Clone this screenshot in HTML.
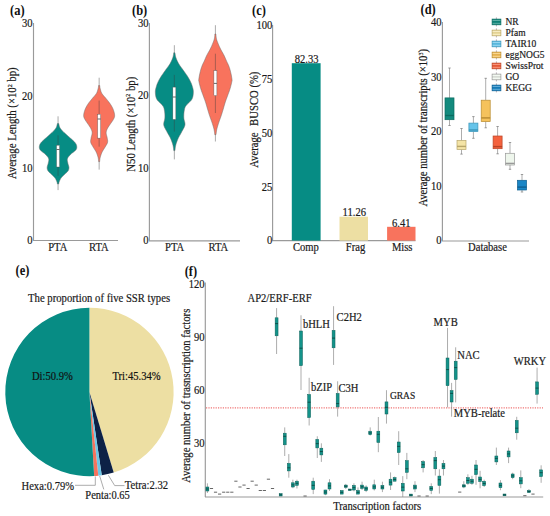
<!DOCTYPE html>
<html><head><meta charset="utf-8"><style>
html,body{margin:0;padding:0;background:#fff;}
body{width:550px;height:516px;overflow:hidden;}
svg{display:block;font-family:"Liberation Serif", serif;}
</style></head><body>
<svg width="550" height="516" viewBox="0 0 550 516">
<rect width="550" height="516" fill="#fff"/>
<text transform="translate(10.00 14.60) scale(1 1.1)" font-size="12.5" text-anchor="start" font-weight="bold" fill="#111">(a)</text>
<line x1="33.50" y1="23.00" x2="33.50" y2="240.50" stroke="#9a9a9a" stroke-width="1.15"/>
<line x1="33.00" y1="240.50" x2="118.00" y2="240.50" stroke="#9a9a9a" stroke-width="1.15"/>
<text transform="translate(32.50 27.30) scale(1 1.1)" font-size="10.6" text-anchor="end" font-weight="normal" fill="#1a1a1a" stroke="#1a1a1a" stroke-width="0.18">30</text>
<text transform="translate(32.50 100.10) scale(1 1.1)" font-size="10.6" text-anchor="end" font-weight="normal" fill="#1a1a1a" stroke="#1a1a1a" stroke-width="0.18">20</text>
<text transform="translate(32.50 172.30) scale(1 1.1)" font-size="10.6" text-anchor="end" font-weight="normal" fill="#1a1a1a" stroke="#1a1a1a" stroke-width="0.18">10</text>
<text transform="translate(32.50 244.10) scale(1 1.1)" font-size="10.6" text-anchor="end" font-weight="normal" fill="#1a1a1a" stroke="#1a1a1a" stroke-width="0.18">0</text>
<text transform="translate(48.20 250.60) scale(1 1.1)" font-size="10.6" text-anchor="start" font-weight="normal" fill="#1a1a1a" stroke="#1a1a1a" stroke-width="0.18">PTA</text>
<text transform="translate(89.00 250.60) scale(1 1.1)" font-size="10.6" text-anchor="start" font-weight="normal" fill="#1a1a1a" stroke="#1a1a1a" stroke-width="0.18">RTA</text>
<text transform="translate(16.00 123.20) rotate(-90) scale(1 1.1)" font-size="10.75" text-anchor="middle" font-weight="normal" fill="#1a1a1a" stroke="#1a1a1a" stroke-width="0.18">Average Length (×10<tspan font-size="6" dy="-4">2</tspan><tspan dy="4"> bp)</tspan></text>
<line x1="58.05" y1="116.30" x2="58.05" y2="124.60" stroke="#8f8f8f" stroke-width="0.75"/>
<line x1="58.05" y1="183.00" x2="58.05" y2="190.10" stroke="#8f8f8f" stroke-width="0.75"/>
<path d="M58.75,123.60 L58.82,123.90 L58.90,124.30 L58.99,124.78 L59.11,125.31 L59.24,125.87 L59.41,126.43 L59.61,126.99 L59.85,127.50 L60.13,127.99 L60.46,128.47 L60.82,128.96 L61.21,129.45 L61.62,129.94 L62.05,130.43 L62.50,130.91 L62.95,131.40 L63.42,131.89 L63.92,132.38 L64.44,132.87 L64.97,133.36 L65.52,133.84 L66.07,134.33 L66.61,134.82 L67.15,135.30 L67.69,135.78 L68.23,136.25 L68.77,136.73 L69.32,137.20 L69.86,137.67 L70.40,138.15 L70.93,138.62 L71.45,139.10 L71.97,139.59 L72.51,140.08 L73.05,140.57 L73.58,141.07 L74.09,141.56 L74.56,142.05 L74.98,142.53 L75.35,143.00 L75.66,143.46 L75.93,143.90 L76.16,144.34 L76.35,144.78 L76.50,145.21 L76.62,145.63 L76.70,146.07 L76.75,146.50 L76.78,146.93 L76.79,147.35 L76.77,147.77 L76.71,148.19 L76.60,148.62 L76.43,149.06 L76.18,149.52 L75.85,150.00 L75.39,150.51 L74.81,151.04 L74.13,151.59 L73.39,152.15 L72.64,152.72 L71.91,153.29 L71.23,153.85 L70.65,154.40 L70.13,154.94 L69.62,155.48 L69.15,156.02 L68.70,156.55 L68.30,157.08 L67.95,157.62 L67.66,158.16 L67.45,158.70 L67.32,159.25 L67.28,159.80 L67.31,160.35 L67.38,160.90 L67.49,161.45 L67.62,162.00 L67.74,162.55 L67.85,163.10 L67.97,163.65 L68.12,164.20 L68.30,164.75 L68.48,165.31 L68.65,165.85 L68.80,166.38 L68.90,166.90 L68.95,167.40 L68.95,167.88 L68.93,168.33 L68.87,168.77 L68.79,169.20 L68.67,169.62 L68.50,170.04 L68.30,170.47 L68.05,170.90 L67.74,171.34 L67.36,171.78 L66.92,172.21 L66.46,172.65 L65.97,173.09 L65.48,173.53 L65.00,173.96 L64.55,174.40 L64.11,174.84 L63.66,175.28 L63.20,175.71 L62.74,176.15 L62.30,176.59 L61.89,177.03 L61.50,177.46 L61.15,177.90 L60.84,178.34 L60.56,178.80 L60.31,179.25 L60.08,179.71 L59.87,180.15 L59.69,180.59 L59.51,181.01 L59.35,181.40 L59.21,181.79 L59.08,182.17 L58.98,182.56 L58.89,182.92 L58.81,183.25 L58.75,183.55 L58.70,183.81 L58.65,184.00 L57.45,184.00 L57.40,183.81 L57.35,183.55 L57.29,183.25 L57.21,182.92 L57.12,182.56 L57.02,182.17 L56.89,181.79 L56.75,181.40 L56.59,181.01 L56.41,180.59 L56.23,180.15 L56.02,179.71 L55.79,179.25 L55.54,178.80 L55.26,178.34 L54.95,177.90 L54.60,177.46 L54.21,177.03 L53.80,176.59 L53.36,176.15 L52.90,175.71 L52.44,175.28 L51.99,174.84 L51.55,174.40 L51.10,173.96 L50.62,173.53 L50.13,173.09 L49.64,172.65 L49.18,172.21 L48.74,171.78 L48.36,171.34 L48.05,170.90 L47.80,170.47 L47.60,170.04 L47.43,169.62 L47.31,169.20 L47.23,168.77 L47.17,168.33 L47.15,167.88 L47.15,167.40 L47.20,166.90 L47.30,166.38 L47.45,165.85 L47.62,165.31 L47.80,164.75 L47.98,164.20 L48.13,163.65 L48.25,163.10 L48.36,162.55 L48.48,162.00 L48.61,161.45 L48.72,160.90 L48.79,160.35 L48.82,159.80 L48.78,159.25 L48.65,158.70 L48.44,158.16 L48.15,157.62 L47.80,157.08 L47.40,156.55 L46.95,156.02 L46.47,155.48 L45.97,154.94 L45.45,154.40 L44.87,153.85 L44.19,153.29 L43.46,152.72 L42.71,152.15 L41.97,151.59 L41.29,151.04 L40.71,150.51 L40.25,150.00 L39.92,149.52 L39.67,149.06 L39.50,148.62 L39.39,148.19 L39.33,147.77 L39.31,147.35 L39.32,146.93 L39.35,146.50 L39.40,146.07 L39.48,145.63 L39.60,145.21 L39.75,144.78 L39.94,144.34 L40.17,143.90 L40.44,143.46 L40.75,143.00 L41.12,142.53 L41.54,142.05 L42.01,141.56 L42.52,141.07 L43.05,140.57 L43.59,140.08 L44.13,139.59 L44.65,139.10 L45.17,138.62 L45.70,138.15 L46.24,137.67 L46.78,137.20 L47.33,136.73 L47.87,136.25 L48.41,135.78 L48.95,135.30 L49.49,134.82 L50.03,134.33 L50.58,133.84 L51.12,133.36 L51.66,132.87 L52.18,132.38 L52.68,131.89 L53.15,131.40 L53.60,130.91 L54.05,130.43 L54.48,129.94 L54.89,129.45 L55.28,128.96 L55.64,128.47 L55.97,127.99 L56.25,127.50 L56.49,126.99 L56.69,126.43 L56.86,125.87 L56.99,125.31 L57.11,124.78 L57.20,124.30 L57.28,123.90 L57.35,123.60 Z" fill="#068c84" stroke="#6a6a6a" stroke-width="0.5"/>
<line x1="58.05" y1="135.30" x2="58.05" y2="175.90" stroke="#3d3d3d" stroke-width="0.7" stroke-opacity="0.6"/>
<rect x="56.55" y="145.20" width="3.00" height="21.80" fill="#ffffff" stroke="#555" stroke-width="0.4"/>
<line x1="56.55" y1="149.50" x2="59.55" y2="149.50" stroke="#444" stroke-width="0.8"/>
<line x1="99.15" y1="77.70" x2="99.15" y2="86.60" stroke="#8f8f8f" stroke-width="0.75"/>
<line x1="99.15" y1="160.60" x2="99.15" y2="169.60" stroke="#8f8f8f" stroke-width="0.75"/>
<path d="M99.75,85.60 L99.77,85.81 L99.79,86.07 L99.81,86.39 L99.84,86.74 L99.89,87.14 L99.95,87.57 L100.04,88.02 L100.15,88.50 L100.29,89.02 L100.43,89.59 L100.60,90.20 L100.78,90.83 L100.99,91.48 L101.24,92.14 L101.52,92.78 L101.85,93.40 L102.23,94.00 L102.67,94.60 L103.15,95.20 L103.66,95.80 L104.19,96.40 L104.72,97.00 L105.25,97.60 L105.75,98.20 L106.24,98.81 L106.75,99.42 L107.26,100.03 L107.76,100.65 L108.26,101.27 L108.75,101.88 L109.21,102.49 L109.65,103.10 L110.07,103.70 L110.47,104.30 L110.86,104.90 L111.24,105.50 L111.59,106.10 L111.93,106.70 L112.25,107.30 L112.55,107.90 L112.83,108.52 L113.09,109.14 L113.34,109.78 L113.56,110.41 L113.77,111.04 L113.95,111.65 L114.11,112.24 L114.25,112.80 L114.37,113.33 L114.47,113.84 L114.54,114.32 L114.60,114.79 L114.63,115.25 L114.63,115.70 L114.61,116.15 L114.55,116.60 L114.46,117.04 L114.33,117.46 L114.18,117.86 L114.00,118.27 L113.79,118.68 L113.57,119.10 L113.32,119.53 L113.05,120.00 L112.75,120.50 L112.42,121.01 L112.06,121.55 L111.68,122.10 L111.28,122.66 L110.89,123.21 L110.51,123.76 L110.15,124.30 L109.79,124.83 L109.43,125.35 L109.06,125.88 L108.70,126.40 L108.35,126.92 L108.02,127.45 L107.72,127.97 L107.45,128.50 L107.20,129.03 L106.97,129.54 L106.75,130.06 L106.56,130.58 L106.40,131.11 L106.27,131.65 L106.19,132.21 L106.15,132.80 L106.18,133.42 L106.27,134.08 L106.42,134.76 L106.60,135.45 L106.79,136.14 L106.98,136.82 L107.13,137.48 L107.25,138.10 L107.34,138.69 L107.44,139.25 L107.53,139.79 L107.61,140.31 L107.66,140.83 L107.67,141.35 L107.64,141.87 L107.55,142.40 L107.40,142.93 L107.20,143.45 L106.95,143.97 L106.67,144.49 L106.36,145.01 L106.03,145.55 L105.69,146.11 L105.35,146.70 L104.99,147.31 L104.59,147.95 L104.17,148.61 L103.73,149.29 L103.30,149.97 L102.88,150.65 L102.49,151.33 L102.15,152.00 L101.84,152.67 L101.55,153.35 L101.29,154.03 L101.04,154.71 L100.81,155.39 L100.60,156.05 L100.42,156.69 L100.25,157.30 L100.11,157.91 L99.99,158.55 L99.90,159.17 L99.83,159.78 L99.77,160.35 L99.73,160.85 L99.69,161.28 L99.65,161.60 L98.65,161.60 L98.61,161.28 L98.57,160.85 L98.53,160.35 L98.47,159.78 L98.40,159.17 L98.31,158.55 L98.19,157.91 L98.05,157.30 L97.88,156.69 L97.70,156.05 L97.49,155.39 L97.26,154.71 L97.01,154.03 L96.75,153.35 L96.46,152.67 L96.15,152.00 L95.81,151.33 L95.42,150.65 L95.00,149.97 L94.57,149.29 L94.13,148.61 L93.71,147.95 L93.31,147.31 L92.95,146.70 L92.61,146.11 L92.27,145.55 L91.94,145.01 L91.63,144.49 L91.35,143.97 L91.10,143.45 L90.90,142.93 L90.75,142.40 L90.66,141.87 L90.63,141.35 L90.64,140.83 L90.69,140.31 L90.77,139.79 L90.86,139.25 L90.96,138.69 L91.05,138.10 L91.17,137.48 L91.33,136.82 L91.51,136.14 L91.70,135.45 L91.88,134.76 L92.03,134.08 L92.12,133.42 L92.15,132.80 L92.11,132.21 L92.03,131.65 L91.90,131.11 L91.74,130.58 L91.55,130.06 L91.33,129.54 L91.10,129.03 L90.85,128.50 L90.58,127.97 L90.28,127.45 L89.95,126.92 L89.60,126.40 L89.24,125.88 L88.87,125.35 L88.51,124.83 L88.15,124.30 L87.79,123.76 L87.41,123.21 L87.02,122.66 L86.62,122.10 L86.24,121.55 L85.88,121.01 L85.55,120.50 L85.25,120.00 L84.98,119.53 L84.73,119.10 L84.51,118.68 L84.30,118.27 L84.12,117.86 L83.97,117.46 L83.84,117.04 L83.75,116.60 L83.69,116.15 L83.67,115.70 L83.67,115.25 L83.70,114.79 L83.76,114.32 L83.83,113.84 L83.93,113.33 L84.05,112.80 L84.19,112.24 L84.35,111.65 L84.53,111.04 L84.74,110.41 L84.96,109.78 L85.21,109.14 L85.47,108.52 L85.75,107.90 L86.05,107.30 L86.37,106.70 L86.71,106.10 L87.06,105.50 L87.44,104.90 L87.83,104.30 L88.23,103.70 L88.65,103.10 L89.09,102.49 L89.55,101.88 L90.04,101.27 L90.54,100.65 L91.04,100.03 L91.55,99.42 L92.06,98.81 L92.55,98.20 L93.05,97.60 L93.58,97.00 L94.11,96.40 L94.64,95.80 L95.15,95.20 L95.63,94.60 L96.07,94.00 L96.45,93.40 L96.78,92.78 L97.06,92.14 L97.31,91.48 L97.52,90.83 L97.70,90.20 L97.87,89.59 L98.01,89.02 L98.15,88.50 L98.26,88.02 L98.35,87.57 L98.41,87.14 L98.46,86.74 L98.49,86.39 L98.51,86.07 L98.53,85.81 L98.55,85.60 Z" fill="#f8735d" stroke="#6a6a6a" stroke-width="0.5"/>
<line x1="99.15" y1="100.60" x2="99.15" y2="146.70" stroke="#3d3d3d" stroke-width="0.7" stroke-opacity="0.6"/>
<rect x="97.65" y="114.20" width="3.00" height="23.90" fill="#ffffff" stroke="#555" stroke-width="0.4"/>
<line x1="97.65" y1="119.00" x2="100.65" y2="119.00" stroke="#444" stroke-width="0.8"/>
<text transform="translate(132.00 14.60) scale(1 1.1)" font-size="12.5" text-anchor="start" font-weight="bold" fill="#111">(b)</text>
<line x1="149.40" y1="23.00" x2="149.40" y2="240.80" stroke="#9a9a9a" stroke-width="1.15"/>
<line x1="149.00" y1="240.80" x2="240.00" y2="240.80" stroke="#9a9a9a" stroke-width="1.15"/>
<text transform="translate(148.50 26.60) scale(1 1.1)" font-size="10.6" text-anchor="end" font-weight="normal" fill="#1a1a1a" stroke="#1a1a1a" stroke-width="0.18">30</text>
<text transform="translate(148.50 99.10) scale(1 1.1)" font-size="10.6" text-anchor="end" font-weight="normal" fill="#1a1a1a" stroke="#1a1a1a" stroke-width="0.18">20</text>
<text transform="translate(148.50 171.90) scale(1 1.1)" font-size="10.6" text-anchor="end" font-weight="normal" fill="#1a1a1a" stroke="#1a1a1a" stroke-width="0.18">10</text>
<text transform="translate(148.50 244.00) scale(1 1.1)" font-size="10.6" text-anchor="end" font-weight="normal" fill="#1a1a1a" stroke="#1a1a1a" stroke-width="0.18">0</text>
<text transform="translate(165.00 250.60) scale(1 1.1)" font-size="10.6" text-anchor="start" font-weight="normal" fill="#1a1a1a" stroke="#1a1a1a" stroke-width="0.18">PTA</text>
<text transform="translate(208.50 250.60) scale(1 1.1)" font-size="10.6" text-anchor="start" font-weight="normal" fill="#1a1a1a" stroke="#1a1a1a" stroke-width="0.18">RTA</text>
<text transform="translate(134.50 124.20) rotate(-90) scale(1 1.1)" font-size="10.8" text-anchor="middle" font-weight="normal" fill="#1a1a1a" stroke="#1a1a1a" stroke-width="0.18">N50 Length (×10<tspan font-size="6" dy="-4">2</tspan><tspan dy="4"> bp)</tspan></text>
<line x1="174.35" y1="45.20" x2="174.35" y2="53.80" stroke="#8f8f8f" stroke-width="0.75"/>
<line x1="174.35" y1="149.60" x2="174.35" y2="159.40" stroke="#8f8f8f" stroke-width="0.75"/>
<path d="M174.95,52.80 L175.01,53.15 L175.07,53.60 L175.15,54.13 L175.24,54.73 L175.35,55.38 L175.48,56.05 L175.65,56.73 L175.85,57.40 L176.08,58.08 L176.35,58.79 L176.64,59.52 L176.96,60.27 L177.30,61.04 L177.66,61.80 L178.05,62.56 L178.45,63.30 L178.88,64.03 L179.35,64.76 L179.84,65.48 L180.36,66.21 L180.88,66.93 L181.41,67.65 L181.94,68.38 L182.45,69.10 L182.96,69.82 L183.48,70.55 L184.01,71.27 L184.53,72.00 L185.05,72.72 L185.56,73.45 L186.07,74.17 L186.55,74.90 L187.02,75.62 L187.50,76.35 L187.96,77.08 L188.41,77.80 L188.85,78.53 L189.27,79.25 L189.67,79.98 L190.05,80.70 L190.40,81.42 L190.74,82.15 L191.06,82.88 L191.36,83.60 L191.64,84.33 L191.89,85.05 L192.13,85.78 L192.35,86.50 L192.55,87.22 L192.75,87.92 L192.93,88.62 L193.09,89.33 L193.22,90.04 L193.31,90.77 L193.35,91.52 L193.35,92.30 L193.31,93.12 L193.26,93.97 L193.17,94.85 L193.04,95.75 L192.85,96.65 L192.60,97.55 L192.27,98.44 L191.85,99.30 L191.29,100.15 L190.57,101.01 L189.74,101.86 L188.86,102.70 L187.98,103.53 L187.15,104.34 L186.42,105.14 L185.85,105.90 L185.42,106.62 L185.09,107.30 L184.84,107.95 L184.64,108.59 L184.50,109.23 L184.38,109.88 L184.27,110.57 L184.15,111.30 L184.04,112.08 L183.94,112.90 L183.87,113.75 L183.83,114.61 L183.80,115.49 L183.79,116.37 L183.81,117.24 L183.85,118.10 L183.95,118.95 L184.12,119.80 L184.34,120.65 L184.57,121.51 L184.78,122.36 L184.94,123.21 L185.00,124.05 L184.95,124.90 L184.77,125.74 L184.48,126.58 L184.12,127.42 L183.70,128.25 L183.24,129.08 L182.77,129.92 L182.29,130.76 L181.85,131.60 L181.41,132.45 L180.94,133.29 L180.45,134.14 L179.96,134.99 L179.47,135.85 L179.00,136.70 L178.55,137.55 L178.15,138.40 L177.78,139.26 L177.42,140.13 L177.08,141.01 L176.77,141.89 L176.48,142.75 L176.21,143.60 L175.96,144.42 L175.75,145.20 L175.57,145.98 L175.42,146.78 L175.30,147.56 L175.20,148.32 L175.12,149.03 L175.06,149.66 L175.00,150.19 L174.95,150.60 L173.75,150.60 L173.70,150.19 L173.64,149.66 L173.58,149.03 L173.50,148.32 L173.40,147.56 L173.28,146.78 L173.13,145.98 L172.95,145.20 L172.74,144.42 L172.49,143.60 L172.22,142.75 L171.93,141.89 L171.62,141.01 L171.28,140.13 L170.92,139.26 L170.55,138.40 L170.15,137.55 L169.70,136.70 L169.23,135.85 L168.74,134.99 L168.25,134.14 L167.76,133.29 L167.29,132.45 L166.85,131.60 L166.41,130.76 L165.93,129.92 L165.46,129.08 L165.00,128.25 L164.58,127.42 L164.22,126.58 L163.93,125.74 L163.75,124.90 L163.70,124.05 L163.76,123.21 L163.92,122.36 L164.12,121.51 L164.36,120.65 L164.57,119.80 L164.75,118.95 L164.85,118.10 L164.89,117.24 L164.91,116.37 L164.90,115.49 L164.88,114.61 L164.83,113.75 L164.76,112.90 L164.66,112.08 L164.55,111.30 L164.43,110.57 L164.32,109.88 L164.20,109.23 L164.06,108.59 L163.86,107.95 L163.61,107.30 L163.28,106.62 L162.85,105.90 L162.27,105.14 L161.55,104.34 L160.72,103.53 L159.84,102.70 L158.96,101.86 L158.13,101.01 L157.41,100.15 L156.85,99.30 L156.43,98.44 L156.10,97.55 L155.85,96.65 L155.66,95.75 L155.53,94.85 L155.44,93.97 L155.39,93.12 L155.35,92.30 L155.35,91.52 L155.39,90.77 L155.48,90.04 L155.61,89.33 L155.77,88.62 L155.95,87.92 L156.15,87.22 L156.35,86.50 L156.57,85.78 L156.81,85.05 L157.06,84.33 L157.34,83.60 L157.64,82.88 L157.96,82.15 L158.30,81.42 L158.65,80.70 L159.03,79.98 L159.43,79.25 L159.85,78.53 L160.29,77.80 L160.74,77.08 L161.20,76.35 L161.68,75.62 L162.15,74.90 L162.63,74.17 L163.14,73.45 L163.65,72.72 L164.17,72.00 L164.69,71.27 L165.22,70.55 L165.74,69.82 L166.25,69.10 L166.76,68.38 L167.29,67.65 L167.82,66.93 L168.34,66.21 L168.86,65.48 L169.35,64.76 L169.82,64.03 L170.25,63.30 L170.65,62.56 L171.04,61.80 L171.40,61.04 L171.74,60.27 L172.06,59.52 L172.35,58.79 L172.62,58.08 L172.85,57.40 L173.05,56.73 L173.22,56.05 L173.35,55.38 L173.46,54.73 L173.55,54.13 L173.63,53.60 L173.69,53.15 L173.75,52.80 Z" fill="#068c84" stroke="#6a6a6a" stroke-width="0.5"/>
<line x1="174.35" y1="74.90" x2="174.35" y2="131.60" stroke="#3d3d3d" stroke-width="0.7" stroke-opacity="0.6"/>
<rect x="172.85" y="87.10" width="3.00" height="32.30" fill="#ffffff" stroke="#555" stroke-width="0.4"/>
<line x1="172.85" y1="97.00" x2="175.85" y2="97.00" stroke="#444" stroke-width="0.8"/>
<line x1="215.40" y1="25.20" x2="215.40" y2="35.00" stroke="#8f8f8f" stroke-width="0.75"/>
<line x1="215.40" y1="133.70" x2="215.40" y2="141.50" stroke="#8f8f8f" stroke-width="0.75"/>
<path d="M215.90,34.00 L215.93,34.35 L215.96,34.82 L216.00,35.38 L216.05,36.01 L216.11,36.67 L216.19,37.34 L216.28,37.99 L216.40,38.60 L216.54,39.18 L216.70,39.74 L216.88,40.31 L217.07,40.87 L217.28,41.45 L217.50,42.05 L217.74,42.66 L218.00,43.30 L218.27,43.97 L218.57,44.67 L218.88,45.39 L219.20,46.13 L219.54,46.88 L219.88,47.62 L220.24,48.37 L220.60,49.10 L220.98,49.83 L221.37,50.55 L221.78,51.27 L222.20,52.00 L222.62,52.73 L223.03,53.45 L223.42,54.18 L223.80,54.90 L224.15,55.62 L224.49,56.35 L224.82,57.07 L225.14,57.80 L225.45,58.52 L225.76,59.25 L226.08,59.97 L226.40,60.70 L226.73,61.43 L227.07,62.15 L227.41,62.88 L227.76,63.60 L228.09,64.33 L228.41,65.05 L228.72,65.78 L229.00,66.50 L229.26,67.22 L229.50,67.92 L229.72,68.62 L229.93,69.33 L230.13,70.04 L230.32,70.77 L230.51,71.52 L230.70,72.30 L230.89,73.15 L231.09,74.07 L231.28,75.03 L231.47,76.01 L231.64,76.95 L231.79,77.84 L231.91,78.63 L232.00,79.30 L232.06,79.80 L232.09,80.14 L232.10,80.38 L232.09,80.56 L232.05,80.75 L231.99,80.98 L231.91,81.31 L231.80,81.80 L231.66,82.44 L231.50,83.20 L231.30,84.04 L231.09,84.93 L230.85,85.86 L230.61,86.80 L230.36,87.72 L230.10,88.60 L229.83,89.45 L229.55,90.30 L229.25,91.15 L228.94,92.01 L228.63,92.86 L228.32,93.71 L228.00,94.55 L227.70,95.40 L227.40,96.24 L227.09,97.08 L226.78,97.92 L226.48,98.75 L226.17,99.58 L225.87,100.42 L225.58,101.26 L225.30,102.10 L225.03,102.95 L224.77,103.79 L224.53,104.64 L224.28,105.49 L224.04,106.35 L223.80,107.20 L223.55,108.05 L223.30,108.90 L223.04,109.75 L222.79,110.60 L222.53,111.45 L222.28,112.30 L222.01,113.15 L221.75,114.00 L221.48,114.85 L221.20,115.70 L220.91,116.55 L220.61,117.40 L220.30,118.25 L219.99,119.10 L219.68,119.95 L219.38,120.80 L219.08,121.65 L218.80,122.50 L218.52,123.36 L218.24,124.23 L217.97,125.11 L217.70,125.99 L217.44,126.85 L217.21,127.70 L216.99,128.52 L216.80,129.30 L216.64,130.08 L216.50,130.88 L216.38,131.66 L216.28,132.43 L216.19,133.13 L216.12,133.76 L216.05,134.29 L216.00,134.70 L214.80,134.70 L214.75,134.29 L214.68,133.76 L214.61,133.13 L214.53,132.43 L214.42,131.66 L214.30,130.88 L214.16,130.08 L214.00,129.30 L213.81,128.52 L213.59,127.70 L213.36,126.85 L213.10,125.99 L212.83,125.11 L212.56,124.23 L212.28,123.36 L212.00,122.50 L211.72,121.65 L211.42,120.80 L211.12,119.95 L210.81,119.10 L210.50,118.25 L210.19,117.40 L209.89,116.55 L209.60,115.70 L209.32,114.85 L209.05,114.00 L208.79,113.15 L208.52,112.30 L208.27,111.45 L208.01,110.60 L207.76,109.75 L207.50,108.90 L207.25,108.05 L207.00,107.20 L206.76,106.35 L206.52,105.49 L206.27,104.64 L206.03,103.79 L205.77,102.95 L205.50,102.10 L205.22,101.26 L204.93,100.42 L204.63,99.58 L204.32,98.75 L204.02,97.92 L203.71,97.08 L203.40,96.24 L203.10,95.40 L202.80,94.55 L202.48,93.71 L202.17,92.86 L201.86,92.01 L201.55,91.15 L201.25,90.30 L200.97,89.45 L200.70,88.60 L200.44,87.72 L200.19,86.80 L199.95,85.86 L199.71,84.93 L199.50,84.04 L199.30,83.20 L199.14,82.44 L199.00,81.80 L198.89,81.31 L198.81,80.98 L198.75,80.75 L198.71,80.56 L198.70,80.38 L198.71,80.14 L198.74,79.80 L198.80,79.30 L198.89,78.63 L199.01,77.84 L199.16,76.95 L199.33,76.01 L199.52,75.03 L199.71,74.07 L199.91,73.15 L200.10,72.30 L200.29,71.52 L200.48,70.77 L200.67,70.04 L200.87,69.33 L201.08,68.62 L201.30,67.92 L201.54,67.22 L201.80,66.50 L202.08,65.78 L202.39,65.05 L202.71,64.33 L203.04,63.60 L203.39,62.88 L203.73,62.15 L204.07,61.43 L204.40,60.70 L204.72,59.97 L205.04,59.25 L205.35,58.52 L205.66,57.80 L205.98,57.07 L206.31,56.35 L206.65,55.62 L207.00,54.90 L207.38,54.18 L207.77,53.45 L208.18,52.73 L208.60,52.00 L209.02,51.27 L209.43,50.55 L209.82,49.83 L210.20,49.10 L210.56,48.37 L210.92,47.62 L211.26,46.88 L211.60,46.13 L211.92,45.39 L212.23,44.67 L212.53,43.97 L212.80,43.30 L213.06,42.66 L213.30,42.05 L213.52,41.45 L213.73,40.87 L213.92,40.31 L214.10,39.74 L214.26,39.18 L214.40,38.60 L214.52,37.99 L214.61,37.34 L214.69,36.67 L214.75,36.01 L214.80,35.38 L214.84,34.82 L214.87,34.35 L214.90,34.00 Z" fill="#f8735d" stroke="#6a6a6a" stroke-width="0.5"/>
<line x1="215.40" y1="53.70" x2="215.40" y2="113.00" stroke="#3d3d3d" stroke-width="0.7" stroke-opacity="0.6"/>
<rect x="213.90" y="70.60" width="3.00" height="25.00" fill="#ffffff" stroke="#555" stroke-width="0.4"/>
<line x1="213.90" y1="83.40" x2="216.90" y2="83.40" stroke="#444" stroke-width="0.8"/>
<text transform="translate(252.00 14.60) scale(1 1.1)" font-size="12.5" text-anchor="start" font-weight="bold" fill="#111">(c)</text>
<line x1="272.60" y1="25.00" x2="272.60" y2="240.60" stroke="#9a9a9a" stroke-width="1.15"/>
<line x1="272.00" y1="240.60" x2="415.50" y2="240.60" stroke="#9a9a9a" stroke-width="1.15"/>
<text transform="translate(272.40 29.10) scale(1 1.1)" font-size="10.6" text-anchor="end" font-weight="normal" fill="#1a1a1a" stroke="#1a1a1a" stroke-width="0.18">100</text>
<text transform="translate(272.40 83.10) scale(1 1.1)" font-size="10.6" text-anchor="end" font-weight="normal" fill="#1a1a1a" stroke="#1a1a1a" stroke-width="0.18">75</text>
<text transform="translate(272.40 136.60) scale(1 1.1)" font-size="10.6" text-anchor="end" font-weight="normal" fill="#1a1a1a" stroke="#1a1a1a" stroke-width="0.18">50</text>
<text transform="translate(272.40 191.00) scale(1 1.1)" font-size="10.6" text-anchor="end" font-weight="normal" fill="#1a1a1a" stroke="#1a1a1a" stroke-width="0.18">25</text>
<text transform="translate(272.40 243.80) scale(1 1.1)" font-size="10.6" text-anchor="end" font-weight="normal" fill="#1a1a1a" stroke="#1a1a1a" stroke-width="0.18">0</text>
<rect x="291.80" y="63.20" width="28.80" height="177.40" fill="#068c84" stroke="none" stroke-width="0"/>
<rect x="339.50" y="216.70" width="28.50" height="23.90" fill="#eddfa3" stroke="none" stroke-width="0"/>
<rect x="387.10" y="226.80" width="28.40" height="13.80" fill="#f8735d" stroke="none" stroke-width="0"/>
<text transform="translate(306.60 62.60) scale(1 1.1)" font-size="10.6" text-anchor="middle" font-weight="normal" fill="#1a1a1a" stroke="#1a1a1a" stroke-width="0.18">82.33</text>
<text transform="translate(354.30 216.20) scale(1 1.1)" font-size="10.6" text-anchor="middle" font-weight="normal" fill="#1a1a1a" stroke="#1a1a1a" stroke-width="0.18">11.26</text>
<text transform="translate(401.30 226.60) scale(1 1.1)" font-size="10.6" text-anchor="middle" font-weight="normal" fill="#1a1a1a" stroke="#1a1a1a" stroke-width="0.18">6.41</text>
<text transform="translate(305.90 250.60) scale(1 1.1)" font-size="10.6" text-anchor="middle" font-weight="normal" fill="#1a1a1a" stroke="#1a1a1a" stroke-width="0.18">Comp</text>
<text transform="translate(355.50 250.60) scale(1 1.1)" font-size="10.6" text-anchor="middle" font-weight="normal" fill="#1a1a1a" stroke="#1a1a1a" stroke-width="0.18">Frag</text>
<text transform="translate(402.20 250.60) scale(1 1.1)" font-size="10.6" text-anchor="middle" font-weight="normal" fill="#1a1a1a" stroke="#1a1a1a" stroke-width="0.18">Miss</text>
<text transform="translate(257.50 119.70) rotate(-90) scale(1 1.1)" font-size="10.7" text-anchor="middle" font-weight="normal" fill="#1a1a1a" stroke="#1a1a1a" stroke-width="0.18">Average<tspan dx="6.5">BUSCO (%)</tspan></text>
<text transform="translate(420.50 14.20) scale(1 1.1)" font-size="12.5" text-anchor="start" font-weight="bold" fill="#111">(d)</text>
<line x1="442.40" y1="22.00" x2="442.40" y2="241.00" stroke="#9a9a9a" stroke-width="1.15"/>
<line x1="442.00" y1="241.00" x2="529.00" y2="241.00" stroke="#9a9a9a" stroke-width="1.15"/>
<text transform="translate(441.50 26.10) scale(1 1.1)" font-size="10.6" text-anchor="end" font-weight="normal" fill="#1a1a1a" stroke="#1a1a1a" stroke-width="0.18">40</text>
<text transform="translate(441.50 80.60) scale(1 1.1)" font-size="10.6" text-anchor="end" font-weight="normal" fill="#1a1a1a" stroke="#1a1a1a" stroke-width="0.18">30</text>
<text transform="translate(441.50 135.10) scale(1 1.1)" font-size="10.6" text-anchor="end" font-weight="normal" fill="#1a1a1a" stroke="#1a1a1a" stroke-width="0.18">20</text>
<text transform="translate(441.50 189.60) scale(1 1.1)" font-size="10.6" text-anchor="end" font-weight="normal" fill="#1a1a1a" stroke="#1a1a1a" stroke-width="0.18">10</text>
<text transform="translate(441.50 244.10) scale(1 1.1)" font-size="10.6" text-anchor="end" font-weight="normal" fill="#1a1a1a" stroke="#1a1a1a" stroke-width="0.18">0</text>
<text transform="translate(487.50 250.60) scale(1 1.1)" font-size="10.6" text-anchor="middle" font-weight="normal" fill="#1a1a1a" stroke="#1a1a1a" stroke-width="0.18">Database</text>
<text transform="translate(427.00 127.80) rotate(-90) scale(1 1.1)" font-size="10.6" text-anchor="middle" font-weight="normal" fill="#1a1a1a" stroke="#1a1a1a" stroke-width="0.18">Average number of transcripts (×10<tspan font-size="6" dy="-4">3</tspan><tspan dy="4">)</tspan></text>
<line x1="449.50" y1="68.00" x2="449.50" y2="97.90" stroke="#8a8a8a" stroke-width="0.7"/>
<line x1="449.50" y1="119.70" x2="449.50" y2="125.50" stroke="#8a8a8a" stroke-width="0.7"/>
<line x1="448.30" y1="68.00" x2="450.70" y2="68.00" stroke="#777" stroke-width="0.7"/>
<line x1="448.30" y1="125.50" x2="450.70" y2="125.50" stroke="#777" stroke-width="0.7"/>
<rect x="445.00" y="97.90" width="9.00" height="21.80" fill="#138a7d" stroke="#0b6b60" stroke-width="0.7"/>
<line x1="445.00" y1="115.50" x2="454.00" y2="115.50" stroke="#0b6b60" stroke-width="1.4"/>
<line x1="461.50" y1="128.50" x2="461.50" y2="140.50" stroke="#8a8a8a" stroke-width="0.7"/>
<line x1="461.50" y1="149.50" x2="461.50" y2="154.10" stroke="#8a8a8a" stroke-width="0.7"/>
<line x1="460.30" y1="128.50" x2="462.70" y2="128.50" stroke="#777" stroke-width="0.7"/>
<line x1="460.30" y1="154.10" x2="462.70" y2="154.10" stroke="#777" stroke-width="0.7"/>
<rect x="457.00" y="140.50" width="9.00" height="9.00" fill="#f4e4a6" stroke="#b8a66a" stroke-width="0.7"/>
<line x1="457.00" y1="146.40" x2="466.00" y2="146.40" stroke="#b8a66a" stroke-width="1.4"/>
<line x1="473.40" y1="116.60" x2="473.40" y2="123.10" stroke="#8a8a8a" stroke-width="0.7"/>
<line x1="473.40" y1="131.60" x2="473.40" y2="138.30" stroke="#8a8a8a" stroke-width="0.7"/>
<line x1="472.20" y1="116.60" x2="474.60" y2="116.60" stroke="#777" stroke-width="0.7"/>
<line x1="472.20" y1="138.30" x2="474.60" y2="138.30" stroke="#777" stroke-width="0.7"/>
<rect x="468.90" y="123.10" width="9.00" height="8.50" fill="#66c4ea" stroke="#3a95b8" stroke-width="0.7"/>
<line x1="468.90" y1="130.00" x2="477.90" y2="130.00" stroke="#3a95b8" stroke-width="1.4"/>
<line x1="485.70" y1="78.30" x2="485.70" y2="100.20" stroke="#8a8a8a" stroke-width="0.7"/>
<line x1="485.70" y1="121.60" x2="485.70" y2="127.80" stroke="#8a8a8a" stroke-width="0.7"/>
<line x1="484.50" y1="78.30" x2="486.90" y2="78.30" stroke="#777" stroke-width="0.7"/>
<line x1="484.50" y1="127.80" x2="486.90" y2="127.80" stroke="#777" stroke-width="0.7"/>
<rect x="481.20" y="100.20" width="9.00" height="21.40" fill="#f5c25c" stroke="#b88a30" stroke-width="0.7"/>
<line x1="481.20" y1="117.90" x2="490.20" y2="117.90" stroke="#b88a30" stroke-width="1.4"/>
<line x1="497.60" y1="126.50" x2="497.60" y2="136.00" stroke="#8a8a8a" stroke-width="0.7"/>
<line x1="497.60" y1="148.70" x2="497.60" y2="153.80" stroke="#8a8a8a" stroke-width="0.7"/>
<line x1="496.40" y1="126.50" x2="498.80" y2="126.50" stroke="#777" stroke-width="0.7"/>
<line x1="496.40" y1="153.80" x2="498.80" y2="153.80" stroke="#777" stroke-width="0.7"/>
<rect x="493.10" y="136.00" width="9.00" height="12.70" fill="#f4623e" stroke="#b84426" stroke-width="0.7"/>
<line x1="493.10" y1="146.60" x2="502.10" y2="146.60" stroke="#b84426" stroke-width="1.4"/>
<line x1="510.00" y1="142.50" x2="510.00" y2="153.30" stroke="#8a8a8a" stroke-width="0.7"/>
<line x1="510.00" y1="165.00" x2="510.00" y2="169.30" stroke="#8a8a8a" stroke-width="0.7"/>
<line x1="508.80" y1="142.50" x2="511.20" y2="142.50" stroke="#777" stroke-width="0.7"/>
<line x1="508.80" y1="169.30" x2="511.20" y2="169.30" stroke="#777" stroke-width="0.7"/>
<rect x="505.50" y="153.30" width="9.00" height="11.70" fill="#eef6ec" stroke="#999" stroke-width="0.7"/>
<line x1="505.50" y1="163.40" x2="514.50" y2="163.40" stroke="#999" stroke-width="1.4"/>
<line x1="522.00" y1="174.50" x2="522.00" y2="180.30" stroke="#8a8a8a" stroke-width="0.7"/>
<line x1="522.00" y1="190.00" x2="522.00" y2="192.00" stroke="#8a8a8a" stroke-width="0.7"/>
<line x1="520.80" y1="174.50" x2="523.20" y2="174.50" stroke="#777" stroke-width="0.7"/>
<line x1="520.80" y1="192.00" x2="523.20" y2="192.00" stroke="#777" stroke-width="0.7"/>
<rect x="517.50" y="180.30" width="9.00" height="9.70" fill="#1a86c6" stroke="#0e5e90" stroke-width="0.7"/>
<line x1="517.50" y1="187.10" x2="526.50" y2="187.10" stroke="#0e5e90" stroke-width="1.4"/>
<line x1="496.40" y1="17.40" x2="496.40" y2="26.40" stroke="#8a7a8a" stroke-width="0.6"/>
<rect x="492.10" y="19.10" width="8.80" height="5.70" fill="#138a7d" stroke="#0b6b60" stroke-width="0.7"/>
<line x1="492.60" y1="20.50" x2="500.40" y2="20.50" stroke="#fff" stroke-width="0.7" stroke-opacity="0.45"/>
<line x1="492.60" y1="23.30" x2="500.40" y2="23.30" stroke="#fff" stroke-width="0.7" stroke-opacity="0.45"/>
<line x1="492.10" y1="21.90" x2="500.90" y2="21.90" stroke="#0b6b60" stroke-width="0.8" stroke-opacity="0.6"/>
<text transform="translate(505.50 25.10) scale(1 1.1)" font-size="9.5" text-anchor="start" font-weight="normal" fill="#1a1a1a" stroke="#1a1a1a" stroke-width="0.18">NR</text>
<line x1="496.40" y1="28.40" x2="496.40" y2="37.40" stroke="#8a7a8a" stroke-width="0.6"/>
<rect x="492.10" y="30.10" width="8.80" height="5.70" fill="#f4e4a6" stroke="#b8a66a" stroke-width="0.7"/>
<line x1="492.60" y1="31.50" x2="500.40" y2="31.50" stroke="#fff" stroke-width="0.7" stroke-opacity="0.45"/>
<line x1="492.60" y1="34.30" x2="500.40" y2="34.30" stroke="#fff" stroke-width="0.7" stroke-opacity="0.45"/>
<line x1="492.10" y1="32.90" x2="500.90" y2="32.90" stroke="#b8a66a" stroke-width="0.8" stroke-opacity="0.6"/>
<text transform="translate(505.50 36.10) scale(1 1.1)" font-size="9.5" text-anchor="start" font-weight="normal" fill="#1a1a1a" stroke="#1a1a1a" stroke-width="0.18">Pfam</text>
<line x1="496.40" y1="39.40" x2="496.40" y2="48.40" stroke="#8a7a8a" stroke-width="0.6"/>
<rect x="492.10" y="41.10" width="8.80" height="5.70" fill="#66c4ea" stroke="#3a95b8" stroke-width="0.7"/>
<line x1="492.60" y1="42.50" x2="500.40" y2="42.50" stroke="#fff" stroke-width="0.7" stroke-opacity="0.45"/>
<line x1="492.60" y1="45.30" x2="500.40" y2="45.30" stroke="#fff" stroke-width="0.7" stroke-opacity="0.45"/>
<line x1="492.10" y1="43.90" x2="500.90" y2="43.90" stroke="#3a95b8" stroke-width="0.8" stroke-opacity="0.6"/>
<text transform="translate(505.50 47.10) scale(1 1.1)" font-size="9.5" text-anchor="start" font-weight="normal" fill="#1a1a1a" stroke="#1a1a1a" stroke-width="0.18">TAIR10</text>
<line x1="496.40" y1="50.40" x2="496.40" y2="59.40" stroke="#8a7a8a" stroke-width="0.6"/>
<rect x="492.10" y="52.10" width="8.80" height="5.70" fill="#f5c25c" stroke="#b88a30" stroke-width="0.7"/>
<line x1="492.60" y1="53.50" x2="500.40" y2="53.50" stroke="#fff" stroke-width="0.7" stroke-opacity="0.45"/>
<line x1="492.60" y1="56.30" x2="500.40" y2="56.30" stroke="#fff" stroke-width="0.7" stroke-opacity="0.45"/>
<line x1="492.10" y1="54.90" x2="500.90" y2="54.90" stroke="#b88a30" stroke-width="0.8" stroke-opacity="0.6"/>
<text transform="translate(505.50 58.10) scale(1 1.1)" font-size="9.5" text-anchor="start" font-weight="normal" fill="#1a1a1a" stroke="#1a1a1a" stroke-width="0.18">eggNOG5</text>
<line x1="496.40" y1="61.40" x2="496.40" y2="70.40" stroke="#8a7a8a" stroke-width="0.6"/>
<rect x="492.10" y="63.10" width="8.80" height="5.70" fill="#f4623e" stroke="#b84426" stroke-width="0.7"/>
<line x1="492.60" y1="64.50" x2="500.40" y2="64.50" stroke="#fff" stroke-width="0.7" stroke-opacity="0.45"/>
<line x1="492.60" y1="67.30" x2="500.40" y2="67.30" stroke="#fff" stroke-width="0.7" stroke-opacity="0.45"/>
<line x1="492.10" y1="65.90" x2="500.90" y2="65.90" stroke="#b84426" stroke-width="0.8" stroke-opacity="0.6"/>
<text transform="translate(505.50 69.10) scale(1 1.1)" font-size="9.5" text-anchor="start" font-weight="normal" fill="#1a1a1a" stroke="#1a1a1a" stroke-width="0.18">SwissProt</text>
<line x1="496.40" y1="72.40" x2="496.40" y2="81.40" stroke="#8a7a8a" stroke-width="0.6"/>
<rect x="492.10" y="74.10" width="8.80" height="5.70" fill="#eef6ec" stroke="#999" stroke-width="0.7"/>
<line x1="492.60" y1="75.50" x2="500.40" y2="75.50" stroke="#fff" stroke-width="0.7" stroke-opacity="0.45"/>
<line x1="492.60" y1="78.30" x2="500.40" y2="78.30" stroke="#fff" stroke-width="0.7" stroke-opacity="0.45"/>
<line x1="492.10" y1="76.90" x2="500.90" y2="76.90" stroke="#999" stroke-width="0.8" stroke-opacity="0.6"/>
<text transform="translate(505.50 80.10) scale(1 1.1)" font-size="9.5" text-anchor="start" font-weight="normal" fill="#1a1a1a" stroke="#1a1a1a" stroke-width="0.18">GO</text>
<line x1="496.40" y1="83.40" x2="496.40" y2="92.40" stroke="#8a7a8a" stroke-width="0.6"/>
<rect x="492.10" y="85.10" width="8.80" height="5.70" fill="#1a86c6" stroke="#0e5e90" stroke-width="0.7"/>
<line x1="492.60" y1="86.50" x2="500.40" y2="86.50" stroke="#fff" stroke-width="0.7" stroke-opacity="0.45"/>
<line x1="492.60" y1="89.30" x2="500.40" y2="89.30" stroke="#fff" stroke-width="0.7" stroke-opacity="0.45"/>
<line x1="492.10" y1="87.90" x2="500.90" y2="87.90" stroke="#0e5e90" stroke-width="0.8" stroke-opacity="0.6"/>
<text transform="translate(505.50 91.10) scale(1 1.1)" font-size="9.5" text-anchor="start" font-weight="normal" fill="#1a1a1a" stroke="#1a1a1a" stroke-width="0.18">KEGG</text>
<text transform="translate(15.50 275.20) scale(1 1.1)" font-size="12.5" text-anchor="start" font-weight="bold" fill="#111">(e)</text>
<text transform="translate(28.10 302.30) scale(1 1.1)" font-size="10.68" text-anchor="start" font-weight="normal" fill="#1a1a1a" stroke="#1a1a1a" stroke-width="0.18">The proportion of five SSR types</text>
<path d="M89.4,392.0 L89.40,307.80 A84.2,84.2 0 0 1 113.70,472.62 Z" fill="#eddfa3"/>
<path d="M89.4,392.0 L113.70,472.62 A84.2,84.2 0 0 1 101.74,475.29 Z" fill="#0d2146"/>
<path d="M89.4,392.0 L101.74,475.29 A84.2,84.2 0 0 1 98.32,475.73 Z" fill="#6cc7e8"/>
<path d="M89.4,392.0 L98.32,475.73 A84.2,84.2 0 0 1 94.16,476.07 Z" fill="#f5735d"/>
<path d="M89.4,392.0 L94.16,476.07 A84.2,84.2 0 1 1 89.40,307.80 Z" fill="#078c84"/>
<text transform="translate(52.30 379.70) scale(1 1.1)" font-size="10.6" text-anchor="middle" font-weight="normal" fill="#111" stroke="#111" stroke-width="0.18">Di:50.9%</text>
<text transform="translate(136.50 379.50) scale(1 1.1)" font-size="10.6" text-anchor="middle" font-weight="normal" fill="#111" stroke="#111" stroke-width="0.18">Tri:45.34%</text>
<polyline points="95.3,476.4 95.3,485.3 75,485.3" fill="none" stroke="#888" stroke-width="0.7"/>
<polyline points="99.7,476 103.8,489.4" fill="none" stroke="#888" stroke-width="0.7"/>
<polyline points="108.4,475.3 114.7,485.6 124.5,485.6" fill="none" stroke="#888" stroke-width="0.7"/>
<text transform="translate(21.50 489.50) scale(1 1.1)" font-size="10.6" text-anchor="start" font-weight="normal" fill="#1a1a1a" stroke="#1a1a1a" stroke-width="0.18">Hexa:0.79%</text>
<text transform="translate(85.30 499.20) scale(1 1.1)" font-size="10.5" text-anchor="start" font-weight="normal" fill="#1a1a1a" stroke="#1a1a1a" stroke-width="0.18">Penta:0.65</text>
<text transform="translate(124.70 488.50) scale(1 1.1)" font-size="10.7" text-anchor="start" font-weight="normal" fill="#1a1a1a" stroke="#1a1a1a" stroke-width="0.18">Tetra:2.32</text>
<text transform="translate(184.70 275.50) scale(1 1.1)" font-size="12.5" text-anchor="start" font-weight="bold" fill="#111">(f)</text>
<line x1="205.30" y1="282.60" x2="205.30" y2="497.00" stroke="#9a9a9a" stroke-width="1.15"/>
<line x1="205.00" y1="497.00" x2="543.20" y2="497.00" stroke="#9a9a9a" stroke-width="1.15"/>
<text transform="translate(204.50 287.90) scale(1 1.1)" font-size="10.6" text-anchor="end" font-weight="normal" fill="#1a1a1a" stroke="#1a1a1a" stroke-width="0.18">120</text>
<text transform="translate(204.50 341.00) scale(1 1.1)" font-size="10.6" text-anchor="end" font-weight="normal" fill="#1a1a1a" stroke="#1a1a1a" stroke-width="0.18">90</text>
<text transform="translate(204.50 394.10) scale(1 1.1)" font-size="10.6" text-anchor="end" font-weight="normal" fill="#1a1a1a" stroke="#1a1a1a" stroke-width="0.18">60</text>
<text transform="translate(204.50 447.20) scale(1 1.1)" font-size="10.6" text-anchor="end" font-weight="normal" fill="#1a1a1a" stroke="#1a1a1a" stroke-width="0.18">30</text>
<text transform="translate(377.20 509.80) scale(1 1.1)" font-size="10.6" text-anchor="middle" font-weight="normal" fill="#1a1a1a" stroke="#1a1a1a" stroke-width="0.18">Transcription factors</text>
<text transform="translate(190.30 395.80) rotate(-90) scale(1 1.1)" font-size="10.66" text-anchor="middle" font-weight="normal" fill="#1a1a1a" stroke="#1a1a1a" stroke-width="0.18">Average number of trasnscription factors</text>
<line x1="206.00" y1="407.90" x2="543.00" y2="407.90" stroke="#f07575" stroke-width="1.1" stroke-dasharray="1.2,1.2"/>
<line x1="207.40" y1="483.30" x2="207.40" y2="487.00" stroke="#8a8a8a" stroke-width="0.7"/>
<line x1="207.40" y1="491.00" x2="207.40" y2="493.00" stroke="#8a8a8a" stroke-width="0.7"/>
<rect x="205.95" y="487.00" width="2.90" height="4.00" fill="#13938a" stroke="#0b5f57" stroke-width="0.5"/>
<line x1="205.95" y1="489.00" x2="208.85" y2="489.00" stroke="#0a3f3a" stroke-width="0.8"/>
<line x1="209.87" y1="488.50" x2="213.07" y2="488.50" stroke="#555" stroke-width="0.9"/>
<line x1="213.94" y1="492.20" x2="217.14" y2="492.20" stroke="#555" stroke-width="0.9"/>
<line x1="218.01" y1="494.10" x2="221.21" y2="494.10" stroke="#555" stroke-width="0.9"/>
<line x1="222.08" y1="492.20" x2="225.28" y2="492.20" stroke="#555" stroke-width="0.9"/>
<line x1="226.15" y1="492.20" x2="229.35" y2="492.20" stroke="#555" stroke-width="0.9"/>
<line x1="230.22" y1="492.20" x2="233.42" y2="492.20" stroke="#555" stroke-width="0.9"/>
<line x1="234.29" y1="481.20" x2="237.49" y2="481.20" stroke="#555" stroke-width="0.9"/>
<line x1="238.36" y1="487.00" x2="241.56" y2="487.00" stroke="#555" stroke-width="0.9"/>
<line x1="242.43" y1="485.10" x2="245.63" y2="485.10" stroke="#555" stroke-width="0.9"/>
<line x1="246.50" y1="488.50" x2="249.70" y2="488.50" stroke="#555" stroke-width="0.9"/>
<line x1="250.57" y1="481.20" x2="253.77" y2="481.20" stroke="#555" stroke-width="0.9"/>
<line x1="254.64" y1="485.10" x2="257.84" y2="485.10" stroke="#555" stroke-width="0.9"/>
<line x1="258.71" y1="490.50" x2="261.91" y2="490.50" stroke="#555" stroke-width="0.9"/>
<line x1="262.78" y1="490.50" x2="265.98" y2="490.50" stroke="#555" stroke-width="0.9"/>
<line x1="266.85" y1="479.20" x2="270.05" y2="479.20" stroke="#555" stroke-width="0.9"/>
<line x1="270.92" y1="488.50" x2="274.12" y2="488.50" stroke="#555" stroke-width="0.9"/>
<line x1="276.59" y1="308.10" x2="276.59" y2="317.80" stroke="#8a8a8a" stroke-width="0.7"/>
<line x1="276.59" y1="335.80" x2="276.59" y2="354.00" stroke="#8a8a8a" stroke-width="0.7"/>
<rect x="275.14" y="317.80" width="2.90" height="18.00" fill="#13938a" stroke="#0b5f57" stroke-width="0.5"/>
<line x1="275.14" y1="323.60" x2="278.04" y2="323.60" stroke="#0a3f3a" stroke-width="0.8"/>
<rect x="279.21" y="493.60" width="2.90" height="2.40" fill="#13938a" stroke="#0b5f57" stroke-width="0.5"/>
<line x1="279.21" y1="494.80" x2="282.11" y2="494.80" stroke="#0a3f3a" stroke-width="0.8"/>
<line x1="284.73" y1="427.40" x2="284.73" y2="433.20" stroke="#8a8a8a" stroke-width="0.7"/>
<line x1="284.73" y1="444.80" x2="284.73" y2="456.00" stroke="#8a8a8a" stroke-width="0.7"/>
<rect x="283.28" y="433.20" width="2.90" height="11.60" fill="#13938a" stroke="#0b5f57" stroke-width="0.5"/>
<line x1="283.28" y1="436.30" x2="286.18" y2="436.30" stroke="#0a3f3a" stroke-width="0.8"/>
<line x1="288.80" y1="454.10" x2="288.80" y2="463.40" stroke="#8a8a8a" stroke-width="0.7"/>
<line x1="288.80" y1="470.90" x2="288.80" y2="477.70" stroke="#8a8a8a" stroke-width="0.7"/>
<rect x="287.35" y="463.40" width="2.90" height="7.50" fill="#13938a" stroke="#0b5f57" stroke-width="0.5"/>
<line x1="287.35" y1="467.80" x2="290.25" y2="467.80" stroke="#0a3f3a" stroke-width="0.8"/>
<line x1="292.87" y1="479.70" x2="292.87" y2="482.80" stroke="#8a8a8a" stroke-width="0.7"/>
<line x1="292.87" y1="487.00" x2="292.87" y2="488.20" stroke="#8a8a8a" stroke-width="0.7"/>
<rect x="291.42" y="482.80" width="2.90" height="4.20" fill="#13938a" stroke="#0b5f57" stroke-width="0.5"/>
<line x1="291.42" y1="484.90" x2="294.32" y2="484.90" stroke="#0a3f3a" stroke-width="0.8"/>
<line x1="296.94" y1="479.70" x2="296.94" y2="481.20" stroke="#8a8a8a" stroke-width="0.7"/>
<line x1="296.94" y1="485.40" x2="296.94" y2="488.50" stroke="#8a8a8a" stroke-width="0.7"/>
<rect x="295.49" y="481.20" width="2.90" height="4.20" fill="#13938a" stroke="#0b5f57" stroke-width="0.5"/>
<line x1="295.49" y1="483.30" x2="298.39" y2="483.30" stroke="#0a3f3a" stroke-width="0.8"/>
<line x1="301.01" y1="315.30" x2="301.01" y2="331.00" stroke="#8a8a8a" stroke-width="0.7"/>
<line x1="301.01" y1="365.70" x2="301.01" y2="390.00" stroke="#8a8a8a" stroke-width="0.7"/>
<rect x="299.56" y="331.00" width="2.90" height="34.70" fill="#13938a" stroke="#0b5f57" stroke-width="0.5"/>
<line x1="299.56" y1="348.20" x2="302.46" y2="348.20" stroke="#0a3f3a" stroke-width="0.8"/>
<line x1="303.48" y1="496.00" x2="306.68" y2="496.00" stroke="#555" stroke-width="0.9"/>
<line x1="309.15" y1="377.80" x2="309.15" y2="394.50" stroke="#8a8a8a" stroke-width="0.7"/>
<line x1="309.15" y1="417.60" x2="309.15" y2="425.50" stroke="#8a8a8a" stroke-width="0.7"/>
<rect x="307.70" y="394.50" width="2.90" height="23.10" fill="#13938a" stroke="#0b5f57" stroke-width="0.5"/>
<line x1="307.70" y1="402.20" x2="310.60" y2="402.20" stroke="#0a3f3a" stroke-width="0.8"/>
<line x1="313.22" y1="477.70" x2="313.22" y2="481.20" stroke="#8a8a8a" stroke-width="0.7"/>
<line x1="313.22" y1="489.50" x2="313.22" y2="494.10" stroke="#8a8a8a" stroke-width="0.7"/>
<rect x="311.77" y="481.20" width="2.90" height="8.30" fill="#13938a" stroke="#0b5f57" stroke-width="0.5"/>
<line x1="311.77" y1="485.35" x2="314.67" y2="485.35" stroke="#0a3f3a" stroke-width="0.8"/>
<line x1="317.29" y1="436.30" x2="317.29" y2="439.40" stroke="#8a8a8a" stroke-width="0.7"/>
<line x1="317.29" y1="447.90" x2="317.29" y2="458.00" stroke="#8a8a8a" stroke-width="0.7"/>
<rect x="315.84" y="439.40" width="2.90" height="8.50" fill="#13938a" stroke="#0b5f57" stroke-width="0.5"/>
<line x1="315.84" y1="443.65" x2="318.74" y2="443.65" stroke="#0a3f3a" stroke-width="0.8"/>
<line x1="321.36" y1="443.30" x2="321.36" y2="448.20" stroke="#8a8a8a" stroke-width="0.7"/>
<line x1="321.36" y1="454.90" x2="321.36" y2="461.90" stroke="#8a8a8a" stroke-width="0.7"/>
<rect x="319.91" y="448.20" width="2.90" height="6.70" fill="#13938a" stroke="#0b5f57" stroke-width="0.5"/>
<line x1="319.91" y1="451.55" x2="322.81" y2="451.55" stroke="#0a3f3a" stroke-width="0.8"/>
<line x1="325.43" y1="489.80" x2="325.43" y2="490.00" stroke="#8a8a8a" stroke-width="0.7"/>
<line x1="325.43" y1="494.10" x2="325.43" y2="495.20" stroke="#8a8a8a" stroke-width="0.7"/>
<rect x="323.98" y="490.00" width="2.90" height="4.10" fill="#13938a" stroke="#0b5f57" stroke-width="0.5"/>
<line x1="323.98" y1="492.05" x2="326.88" y2="492.05" stroke="#0a3f3a" stroke-width="0.8"/>
<line x1="329.50" y1="479.20" x2="329.50" y2="482.80" stroke="#8a8a8a" stroke-width="0.7"/>
<line x1="329.50" y1="489.00" x2="329.50" y2="491.00" stroke="#8a8a8a" stroke-width="0.7"/>
<rect x="328.05" y="482.80" width="2.90" height="6.20" fill="#13938a" stroke="#0b5f57" stroke-width="0.5"/>
<line x1="328.05" y1="485.90" x2="330.95" y2="485.90" stroke="#0a3f3a" stroke-width="0.8"/>
<line x1="333.57" y1="306.20" x2="333.57" y2="330.40" stroke="#8a8a8a" stroke-width="0.7"/>
<line x1="333.57" y1="347.80" x2="333.57" y2="364.90" stroke="#8a8a8a" stroke-width="0.7"/>
<rect x="332.12" y="330.40" width="2.90" height="17.40" fill="#13938a" stroke="#0b5f57" stroke-width="0.5"/>
<line x1="332.12" y1="338.10" x2="335.02" y2="338.10" stroke="#0a3f3a" stroke-width="0.8"/>
<line x1="337.64" y1="381.30" x2="337.64" y2="393.50" stroke="#8a8a8a" stroke-width="0.7"/>
<line x1="337.64" y1="406.90" x2="337.64" y2="416.60" stroke="#8a8a8a" stroke-width="0.7"/>
<rect x="336.19" y="393.50" width="2.90" height="13.40" fill="#13938a" stroke="#0b5f57" stroke-width="0.5"/>
<line x1="336.19" y1="403.60" x2="339.09" y2="403.60" stroke="#0a3f3a" stroke-width="0.8"/>
<rect x="340.26" y="490.50" width="2.90" height="3.60" fill="#13938a" stroke="#0b5f57" stroke-width="0.5"/>
<line x1="340.26" y1="492.30" x2="343.16" y2="492.30" stroke="#0a3f3a" stroke-width="0.8"/>
<line x1="345.78" y1="483.90" x2="345.78" y2="485.10" stroke="#8a8a8a" stroke-width="0.7"/>
<line x1="345.78" y1="487.40" x2="345.78" y2="489.00" stroke="#8a8a8a" stroke-width="0.7"/>
<rect x="344.33" y="485.10" width="2.90" height="2.30" fill="#13938a" stroke="#0b5f57" stroke-width="0.5"/>
<line x1="344.33" y1="486.25" x2="347.23" y2="486.25" stroke="#0a3f3a" stroke-width="0.8"/>
<rect x="348.40" y="489.00" width="2.90" height="1.50" fill="#13938a" stroke="#0b5f57" stroke-width="0.5"/>
<line x1="348.40" y1="489.75" x2="351.30" y2="489.75" stroke="#0a3f3a" stroke-width="0.8"/>
<line x1="353.92" y1="483.30" x2="353.92" y2="485.40" stroke="#8a8a8a" stroke-width="0.7"/>
<line x1="353.92" y1="490.00" x2="353.92" y2="491.30" stroke="#8a8a8a" stroke-width="0.7"/>
<rect x="352.47" y="485.40" width="2.90" height="4.60" fill="#13938a" stroke="#0b5f57" stroke-width="0.5"/>
<line x1="352.47" y1="487.70" x2="355.37" y2="487.70" stroke="#0a3f3a" stroke-width="0.8"/>
<line x1="357.99" y1="487.40" x2="357.99" y2="490.50" stroke="#8a8a8a" stroke-width="0.7"/>
<rect x="356.54" y="490.50" width="2.90" height="3.60" fill="#13938a" stroke="#0b5f57" stroke-width="0.5"/>
<line x1="356.54" y1="492.30" x2="359.44" y2="492.30" stroke="#0a3f3a" stroke-width="0.8"/>
<line x1="362.06" y1="481.70" x2="362.06" y2="485.10" stroke="#8a8a8a" stroke-width="0.7"/>
<line x1="362.06" y1="488.50" x2="362.06" y2="490.00" stroke="#8a8a8a" stroke-width="0.7"/>
<rect x="360.61" y="485.10" width="2.90" height="3.40" fill="#13938a" stroke="#0b5f57" stroke-width="0.5"/>
<line x1="360.61" y1="486.80" x2="363.51" y2="486.80" stroke="#0a3f3a" stroke-width="0.8"/>
<line x1="366.13" y1="485.40" x2="366.13" y2="487.00" stroke="#8a8a8a" stroke-width="0.7"/>
<line x1="366.13" y1="490.50" x2="366.13" y2="492.10" stroke="#8a8a8a" stroke-width="0.7"/>
<rect x="364.68" y="487.00" width="2.90" height="3.50" fill="#13938a" stroke="#0b5f57" stroke-width="0.5"/>
<line x1="364.68" y1="488.75" x2="367.58" y2="488.75" stroke="#0a3f3a" stroke-width="0.8"/>
<line x1="370.20" y1="427.40" x2="370.20" y2="431.20" stroke="#8a8a8a" stroke-width="0.7"/>
<line x1="370.20" y1="434.70" x2="370.20" y2="435.50" stroke="#8a8a8a" stroke-width="0.7"/>
<rect x="368.75" y="431.20" width="2.90" height="3.50" fill="#13938a" stroke="#0b5f57" stroke-width="0.5"/>
<line x1="368.75" y1="432.95" x2="371.65" y2="432.95" stroke="#0a3f3a" stroke-width="0.8"/>
<line x1="374.27" y1="479.70" x2="374.27" y2="484.80" stroke="#8a8a8a" stroke-width="0.7"/>
<line x1="374.27" y1="489.00" x2="374.27" y2="490.50" stroke="#8a8a8a" stroke-width="0.7"/>
<rect x="372.82" y="484.80" width="2.90" height="4.20" fill="#13938a" stroke="#0b5f57" stroke-width="0.5"/>
<line x1="372.82" y1="486.90" x2="375.72" y2="486.90" stroke="#0a3f3a" stroke-width="0.8"/>
<line x1="378.34" y1="417.00" x2="378.34" y2="431.20" stroke="#8a8a8a" stroke-width="0.7"/>
<line x1="378.34" y1="442.50" x2="378.34" y2="452.20" stroke="#8a8a8a" stroke-width="0.7"/>
<rect x="376.89" y="431.20" width="2.90" height="11.30" fill="#13938a" stroke="#0b5f57" stroke-width="0.5"/>
<line x1="376.89" y1="434.30" x2="379.79" y2="434.30" stroke="#0a3f3a" stroke-width="0.8"/>
<line x1="382.41" y1="481.70" x2="382.41" y2="485.40" stroke="#8a8a8a" stroke-width="0.7"/>
<line x1="382.41" y1="489.00" x2="382.41" y2="492.10" stroke="#8a8a8a" stroke-width="0.7"/>
<rect x="380.96" y="485.40" width="2.90" height="3.60" fill="#13938a" stroke="#0b5f57" stroke-width="0.5"/>
<line x1="380.96" y1="487.20" x2="383.86" y2="487.20" stroke="#0a3f3a" stroke-width="0.8"/>
<line x1="386.48" y1="390.20" x2="386.48" y2="401.90" stroke="#8a8a8a" stroke-width="0.7"/>
<line x1="386.48" y1="414.00" x2="386.48" y2="423.60" stroke="#8a8a8a" stroke-width="0.7"/>
<rect x="385.03" y="401.90" width="2.90" height="12.10" fill="#13938a" stroke="#0b5f57" stroke-width="0.5"/>
<line x1="385.03" y1="407.30" x2="387.93" y2="407.30" stroke="#0a3f3a" stroke-width="0.8"/>
<line x1="390.55" y1="472.40" x2="390.55" y2="479.20" stroke="#8a8a8a" stroke-width="0.7"/>
<line x1="390.55" y1="485.10" x2="390.55" y2="490.00" stroke="#8a8a8a" stroke-width="0.7"/>
<rect x="389.10" y="479.20" width="2.90" height="5.90" fill="#13938a" stroke="#0b5f57" stroke-width="0.5"/>
<line x1="389.10" y1="482.15" x2="392.00" y2="482.15" stroke="#0a3f3a" stroke-width="0.8"/>
<line x1="394.62" y1="476.60" x2="394.62" y2="477.70" stroke="#8a8a8a" stroke-width="0.7"/>
<rect x="393.17" y="477.70" width="2.90" height="3.50" fill="#13938a" stroke="#0b5f57" stroke-width="0.5"/>
<line x1="393.17" y1="479.45" x2="396.07" y2="479.45" stroke="#0a3f3a" stroke-width="0.8"/>
<line x1="398.69" y1="431.20" x2="398.69" y2="442.00" stroke="#8a8a8a" stroke-width="0.7"/>
<line x1="398.69" y1="452.60" x2="398.69" y2="465.00" stroke="#8a8a8a" stroke-width="0.7"/>
<rect x="397.24" y="442.00" width="2.90" height="10.60" fill="#13938a" stroke="#0b5f57" stroke-width="0.5"/>
<line x1="397.24" y1="446.40" x2="400.14" y2="446.40" stroke="#0a3f3a" stroke-width="0.8"/>
<line x1="402.76" y1="476.10" x2="402.76" y2="483.30" stroke="#8a8a8a" stroke-width="0.7"/>
<line x1="402.76" y1="491.00" x2="402.76" y2="497.00" stroke="#8a8a8a" stroke-width="0.7"/>
<rect x="401.31" y="483.30" width="2.90" height="7.70" fill="#13938a" stroke="#0b5f57" stroke-width="0.5"/>
<line x1="401.31" y1="487.15" x2="404.21" y2="487.15" stroke="#0a3f3a" stroke-width="0.8"/>
<line x1="406.83" y1="452.90" x2="406.83" y2="460.60" stroke="#8a8a8a" stroke-width="0.7"/>
<line x1="406.83" y1="472.40" x2="406.83" y2="479.20" stroke="#8a8a8a" stroke-width="0.7"/>
<rect x="405.38" y="460.60" width="2.90" height="11.80" fill="#13938a" stroke="#0b5f57" stroke-width="0.5"/>
<line x1="405.38" y1="468.80" x2="408.28" y2="468.80" stroke="#0a3f3a" stroke-width="0.8"/>
<rect x="409.45" y="494.10" width="2.90" height="1.90" fill="#13938a" stroke="#0b5f57" stroke-width="0.5"/>
<line x1="409.45" y1="495.05" x2="412.35" y2="495.05" stroke="#0a3f3a" stroke-width="0.8"/>
<line x1="414.97" y1="481.20" x2="414.97" y2="485.10" stroke="#8a8a8a" stroke-width="0.7"/>
<line x1="414.97" y1="489.00" x2="414.97" y2="492.10" stroke="#8a8a8a" stroke-width="0.7"/>
<rect x="413.52" y="485.10" width="2.90" height="3.90" fill="#13938a" stroke="#0b5f57" stroke-width="0.5"/>
<line x1="413.52" y1="487.05" x2="416.42" y2="487.05" stroke="#0a3f3a" stroke-width="0.8"/>
<line x1="417.44" y1="496.00" x2="420.64" y2="496.00" stroke="#555" stroke-width="0.9"/>
<line x1="423.11" y1="460.00" x2="423.11" y2="461.60" stroke="#8a8a8a" stroke-width="0.7"/>
<line x1="423.11" y1="467.80" x2="423.11" y2="472.40" stroke="#8a8a8a" stroke-width="0.7"/>
<rect x="421.66" y="461.60" width="2.90" height="6.20" fill="#13938a" stroke="#0b5f57" stroke-width="0.5"/>
<line x1="421.66" y1="464.70" x2="424.56" y2="464.70" stroke="#0a3f3a" stroke-width="0.8"/>
<line x1="425.58" y1="496.00" x2="428.78" y2="496.00" stroke="#555" stroke-width="0.9"/>
<line x1="431.25" y1="483.30" x2="431.25" y2="486.40" stroke="#8a8a8a" stroke-width="0.7"/>
<line x1="431.25" y1="490.50" x2="431.25" y2="494.10" stroke="#8a8a8a" stroke-width="0.7"/>
<rect x="429.80" y="486.40" width="2.90" height="4.10" fill="#13938a" stroke="#0b5f57" stroke-width="0.5"/>
<line x1="429.80" y1="488.45" x2="432.70" y2="488.45" stroke="#0a3f3a" stroke-width="0.8"/>
<line x1="435.32" y1="451.00" x2="435.32" y2="457.50" stroke="#8a8a8a" stroke-width="0.7"/>
<line x1="435.32" y1="468.80" x2="435.32" y2="475.50" stroke="#8a8a8a" stroke-width="0.7"/>
<rect x="433.87" y="457.50" width="2.90" height="11.30" fill="#13938a" stroke="#0b5f57" stroke-width="0.5"/>
<line x1="433.87" y1="460.60" x2="436.77" y2="460.60" stroke="#0a3f3a" stroke-width="0.8"/>
<line x1="439.39" y1="469.30" x2="439.39" y2="476.10" stroke="#8a8a8a" stroke-width="0.7"/>
<line x1="439.39" y1="485.40" x2="439.39" y2="493.60" stroke="#8a8a8a" stroke-width="0.7"/>
<rect x="437.94" y="476.10" width="2.90" height="9.30" fill="#13938a" stroke="#0b5f57" stroke-width="0.5"/>
<line x1="437.94" y1="479.70" x2="440.84" y2="479.70" stroke="#0a3f3a" stroke-width="0.8"/>
<line x1="443.46" y1="460.00" x2="443.46" y2="463.40" stroke="#8a8a8a" stroke-width="0.7"/>
<line x1="443.46" y1="468.80" x2="443.46" y2="475.50" stroke="#8a8a8a" stroke-width="0.7"/>
<rect x="442.01" y="463.40" width="2.90" height="5.40" fill="#13938a" stroke="#0b5f57" stroke-width="0.5"/>
<line x1="442.01" y1="466.10" x2="444.91" y2="466.10" stroke="#0a3f3a" stroke-width="0.8"/>
<line x1="447.53" y1="327.90" x2="447.53" y2="358.00" stroke="#8a8a8a" stroke-width="0.7"/>
<line x1="447.53" y1="385.70" x2="447.53" y2="407.40" stroke="#8a8a8a" stroke-width="0.7"/>
<rect x="446.08" y="358.00" width="2.90" height="27.70" fill="#13938a" stroke="#0b5f57" stroke-width="0.5"/>
<line x1="446.08" y1="369.60" x2="448.98" y2="369.60" stroke="#0a3f3a" stroke-width="0.8"/>
<line x1="451.60" y1="382.90" x2="451.60" y2="390.60" stroke="#8a8a8a" stroke-width="0.7"/>
<line x1="451.60" y1="402.00" x2="451.60" y2="416.70" stroke="#8a8a8a" stroke-width="0.7"/>
<rect x="450.15" y="390.60" width="2.90" height="11.40" fill="#13938a" stroke="#0b5f57" stroke-width="0.5"/>
<line x1="450.15" y1="393.40" x2="453.05" y2="393.40" stroke="#0a3f3a" stroke-width="0.8"/>
<line x1="455.67" y1="347.30" x2="455.67" y2="361.20" stroke="#8a8a8a" stroke-width="0.7"/>
<line x1="455.67" y1="379.50" x2="455.67" y2="402.40" stroke="#8a8a8a" stroke-width="0.7"/>
<rect x="454.22" y="361.20" width="2.90" height="18.30" fill="#13938a" stroke="#0b5f57" stroke-width="0.5"/>
<line x1="454.22" y1="367.60" x2="457.12" y2="367.60" stroke="#0a3f3a" stroke-width="0.8"/>
<line x1="458.14" y1="492.10" x2="461.34" y2="492.10" stroke="#555" stroke-width="0.9"/>
<line x1="463.81" y1="481.20" x2="463.81" y2="484.80" stroke="#8a8a8a" stroke-width="0.7"/>
<line x1="463.81" y1="487.00" x2="463.81" y2="488.20" stroke="#8a8a8a" stroke-width="0.7"/>
<rect x="462.36" y="484.80" width="2.90" height="2.20" fill="#13938a" stroke="#0b5f57" stroke-width="0.5"/>
<line x1="462.36" y1="485.90" x2="465.26" y2="485.90" stroke="#0a3f3a" stroke-width="0.8"/>
<line x1="467.88" y1="474.30" x2="467.88" y2="477.70" stroke="#8a8a8a" stroke-width="0.7"/>
<line x1="467.88" y1="483.30" x2="467.88" y2="484.80" stroke="#8a8a8a" stroke-width="0.7"/>
<rect x="466.43" y="477.70" width="2.90" height="5.60" fill="#13938a" stroke="#0b5f57" stroke-width="0.5"/>
<line x1="466.43" y1="480.50" x2="469.33" y2="480.50" stroke="#0a3f3a" stroke-width="0.8"/>
<line x1="471.95" y1="475.80" x2="471.95" y2="479.20" stroke="#8a8a8a" stroke-width="0.7"/>
<line x1="471.95" y1="483.30" x2="471.95" y2="484.80" stroke="#8a8a8a" stroke-width="0.7"/>
<rect x="470.50" y="479.20" width="2.90" height="4.10" fill="#13938a" stroke="#0b5f57" stroke-width="0.5"/>
<line x1="470.50" y1="481.25" x2="473.40" y2="481.25" stroke="#0a3f3a" stroke-width="0.8"/>
<line x1="476.02" y1="460.00" x2="476.02" y2="465.00" stroke="#8a8a8a" stroke-width="0.7"/>
<line x1="476.02" y1="474.60" x2="476.02" y2="484.80" stroke="#8a8a8a" stroke-width="0.7"/>
<rect x="474.57" y="465.00" width="2.90" height="9.60" fill="#13938a" stroke="#0b5f57" stroke-width="0.5"/>
<line x1="474.57" y1="469.30" x2="477.47" y2="469.30" stroke="#0a3f3a" stroke-width="0.8"/>
<line x1="480.09" y1="470.80" x2="480.09" y2="477.00" stroke="#8a8a8a" stroke-width="0.7"/>
<line x1="480.09" y1="481.60" x2="480.09" y2="488.30" stroke="#8a8a8a" stroke-width="0.7"/>
<rect x="478.64" y="477.00" width="2.90" height="4.60" fill="#13938a" stroke="#0b5f57" stroke-width="0.5"/>
<line x1="478.64" y1="479.30" x2="481.54" y2="479.30" stroke="#0a3f3a" stroke-width="0.8"/>
<line x1="484.16" y1="479.70" x2="484.16" y2="481.30" stroke="#8a8a8a" stroke-width="0.7"/>
<line x1="484.16" y1="485.60" x2="484.16" y2="487.00" stroke="#8a8a8a" stroke-width="0.7"/>
<rect x="482.71" y="481.30" width="2.90" height="4.30" fill="#13938a" stroke="#0b5f57" stroke-width="0.5"/>
<line x1="482.71" y1="483.45" x2="485.61" y2="483.45" stroke="#0a3f3a" stroke-width="0.8"/>
<line x1="496.37" y1="447.60" x2="496.37" y2="456.00" stroke="#8a8a8a" stroke-width="0.7"/>
<line x1="496.37" y1="461.90" x2="496.37" y2="465.00" stroke="#8a8a8a" stroke-width="0.7"/>
<rect x="494.92" y="456.00" width="2.90" height="5.90" fill="#13938a" stroke="#0b5f57" stroke-width="0.5"/>
<line x1="494.92" y1="458.40" x2="497.82" y2="458.40" stroke="#0a3f3a" stroke-width="0.8"/>
<line x1="500.44" y1="480.10" x2="500.44" y2="483.00" stroke="#8a8a8a" stroke-width="0.7"/>
<line x1="500.44" y1="487.70" x2="500.44" y2="490.20" stroke="#8a8a8a" stroke-width="0.7"/>
<rect x="498.99" y="483.00" width="2.90" height="4.70" fill="#13938a" stroke="#0b5f57" stroke-width="0.5"/>
<line x1="498.99" y1="485.35" x2="501.89" y2="485.35" stroke="#0a3f3a" stroke-width="0.8"/>
<rect x="503.06" y="494.00" width="2.90" height="1.80" fill="#13938a" stroke="#0b5f57" stroke-width="0.5"/>
<line x1="503.06" y1="494.90" x2="505.96" y2="494.90" stroke="#0a3f3a" stroke-width="0.8"/>
<line x1="508.58" y1="447.60" x2="508.58" y2="451.00" stroke="#8a8a8a" stroke-width="0.7"/>
<line x1="508.58" y1="456.90" x2="508.58" y2="463.10" stroke="#8a8a8a" stroke-width="0.7"/>
<rect x="507.13" y="451.00" width="2.90" height="5.90" fill="#13938a" stroke="#0b5f57" stroke-width="0.5"/>
<line x1="507.13" y1="453.95" x2="510.03" y2="453.95" stroke="#0a3f3a" stroke-width="0.8"/>
<line x1="512.65" y1="472.70" x2="512.65" y2="474.00" stroke="#8a8a8a" stroke-width="0.7"/>
<line x1="512.65" y1="477.70" x2="512.65" y2="479.20" stroke="#8a8a8a" stroke-width="0.7"/>
<rect x="511.20" y="474.00" width="2.90" height="3.70" fill="#13938a" stroke="#0b5f57" stroke-width="0.5"/>
<line x1="511.20" y1="475.85" x2="514.10" y2="475.85" stroke="#0a3f3a" stroke-width="0.8"/>
<line x1="516.72" y1="416.80" x2="516.72" y2="420.40" stroke="#8a8a8a" stroke-width="0.7"/>
<line x1="516.72" y1="432.80" x2="516.72" y2="439.70" stroke="#8a8a8a" stroke-width="0.7"/>
<rect x="515.27" y="420.40" width="2.90" height="12.40" fill="#13938a" stroke="#0b5f57" stroke-width="0.5"/>
<line x1="515.27" y1="428.20" x2="518.17" y2="428.20" stroke="#0a3f3a" stroke-width="0.8"/>
<line x1="520.79" y1="470.40" x2="520.79" y2="477.70" stroke="#8a8a8a" stroke-width="0.7"/>
<line x1="520.79" y1="483.90" x2="520.79" y2="488.20" stroke="#8a8a8a" stroke-width="0.7"/>
<rect x="519.34" y="477.70" width="2.90" height="6.20" fill="#13938a" stroke="#0b5f57" stroke-width="0.5"/>
<line x1="519.34" y1="480.80" x2="522.24" y2="480.80" stroke="#0a3f3a" stroke-width="0.8"/>
<line x1="523.26" y1="495.70" x2="526.46" y2="495.70" stroke="#555" stroke-width="0.9"/>
<line x1="528.93" y1="489.00" x2="528.93" y2="490.50" stroke="#8a8a8a" stroke-width="0.7"/>
<rect x="527.48" y="490.50" width="2.90" height="2.10" fill="#13938a" stroke="#0b5f57" stroke-width="0.5"/>
<line x1="527.48" y1="491.55" x2="530.38" y2="491.55" stroke="#0a3f3a" stroke-width="0.8"/>
<line x1="531.40" y1="494.10" x2="534.60" y2="494.10" stroke="#555" stroke-width="0.9"/>
<line x1="537.07" y1="367.60" x2="537.07" y2="381.90" stroke="#8a8a8a" stroke-width="0.7"/>
<line x1="537.07" y1="394.30" x2="537.07" y2="403.60" stroke="#8a8a8a" stroke-width="0.7"/>
<rect x="535.62" y="381.90" width="2.90" height="12.40" fill="#13938a" stroke="#0b5f57" stroke-width="0.5"/>
<line x1="535.62" y1="388.10" x2="538.52" y2="388.10" stroke="#0a3f3a" stroke-width="0.8"/>
<line x1="541.14" y1="465.30" x2="541.14" y2="469.90" stroke="#8a8a8a" stroke-width="0.7"/>
<line x1="541.14" y1="476.60" x2="541.14" y2="482.80" stroke="#8a8a8a" stroke-width="0.7"/>
<rect x="539.69" y="469.90" width="2.90" height="6.70" fill="#13938a" stroke="#0b5f57" stroke-width="0.5"/>
<line x1="539.69" y1="472.70" x2="542.59" y2="472.70" stroke="#0a3f3a" stroke-width="0.8"/>
<text transform="translate(247.50 302.30) scale(1 1.1)" font-size="10.6" text-anchor="start" font-weight="normal" fill="#1a1a1a" stroke="#1a1a1a" stroke-width="0.18">AP2/ERF-ERF</text>
<text transform="translate(302.90 327.50) scale(1 1.1)" font-size="10.6" text-anchor="start" font-weight="normal" fill="#1a1a1a" stroke="#1a1a1a" stroke-width="0.18">bHLH</text>
<text transform="translate(336.60 320.70) scale(1 1.1)" font-size="10.6" text-anchor="start" font-weight="normal" fill="#1a1a1a" stroke="#1a1a1a" stroke-width="0.18">C2H2</text>
<text transform="translate(311.00 390.60) scale(1 1.1)" font-size="10.6" text-anchor="start" font-weight="normal" fill="#1a1a1a" stroke="#1a1a1a" stroke-width="0.18">bZIP</text>
<text transform="translate(338.50 392.00) scale(1 1.1)" font-size="10.6" text-anchor="start" font-weight="normal" fill="#1a1a1a" stroke="#1a1a1a" stroke-width="0.18">C3H</text>
<text transform="translate(389.90 398.60) scale(1 1.1)" font-size="9.5" text-anchor="start" font-weight="normal" fill="#1a1a1a" stroke="#1a1a1a" stroke-width="0.18">GRAS</text>
<text transform="translate(433.60 325.60) scale(1 1.1)" font-size="10.6" text-anchor="start" font-weight="normal" fill="#1a1a1a" stroke="#1a1a1a" stroke-width="0.18">MYB</text>
<text transform="translate(457.30 358.60) scale(1 1.1)" font-size="10.6" text-anchor="start" font-weight="normal" fill="#1a1a1a" stroke="#1a1a1a" stroke-width="0.18">NAC</text>
<text transform="translate(453.80 417.00) scale(1 1.1)" font-size="10.6" text-anchor="start" font-weight="normal" fill="#1a1a1a" stroke="#1a1a1a" stroke-width="0.18">MYB-relate</text>
<text transform="translate(513.70 364.80) scale(1 1.1)" font-size="10.6" text-anchor="start" font-weight="normal" fill="#1a1a1a" stroke="#1a1a1a" stroke-width="0.18">WRKY</text>
</svg></body></html>
